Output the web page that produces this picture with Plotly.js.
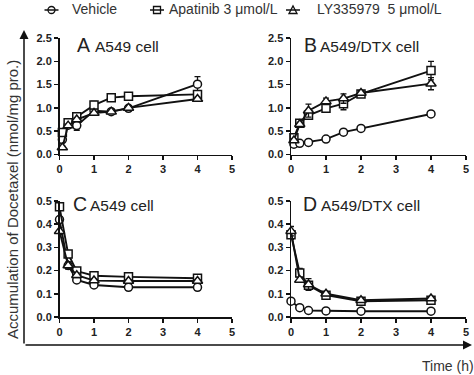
<!DOCTYPE html>
<html>
<head>
<meta charset="utf-8">
<script src="https://cdn.plot.ly/plotly-3.0.1.min.js"></script>
<style>html,body{margin:0;padding:0;background:#fff;}#chart{width:474px;height:375px;}</style>
</head>
<body>
<div id="chart"></div>
<script>
// ---- data ----
var seriesNames = ["Vehicle", "Apatinib 3 \u03bcmol/L", "LY335979  5 \u03bcmol/L"];
var panelLetters = ["A", "B", "C", "D"];
var panelCells = ["A549 cell", "A549/DTX cell", "A549 cell", "A549/DTX cell"];
var xTitle = "Time (h)";
var yTitle = "Accumulation of Docetaxel (nmol/mg pro.)";

var timeUptake = [0.083, 0.25, 0.5, 1, 1.5, 2, 4];
var timeEfflux = [0, 0.25, 0.5, 1, 2, 4];

// Panel A (A549, uptake)
var vehA = [0.32, 0.63, 0.62, 0.94, 0.92, 0.99, 1.51];
var vehAerr = [0.03, 0.04, 0.10, 0.04, 0.03, 0.04, 0.16];
var apaA = [0.47, 0.68, 0.81, 1.06, 1.22, 1.25, 1.29];
var apaAerr = [0.03, 0.04, 0.04, 0.08, 0.04, 0.03, 0.05];
var lyA = [0.15, 0.62, 0.75, 0.89, 0.92, 1.00, 1.19];
var lyAerr = [0.03, 0.03, 0.04, 0.03, 0.03, 0.05, 0.04];

// Panel B (A549/DTX, uptake)
var vehB = [0.22, 0.24, 0.26, 0.33, 0.48, 0.56, 0.87];
var vehBerr = [0.02, 0.02, 0.02, 0.02, 0.02, 0.02, 0.02];
var apaB = [0.36, 0.67, 0.84, 0.99, 1.09, 1.30, 1.80];
var apaBerr = [0.03, 0.04, 0.05, 0.05, 0.13, 0.06, 0.20];
var lyB = [0.30, 0.65, 0.94, 1.14, 1.20, 1.32, 1.52];
var lyBerr = [0.03, 0.04, 0.14, 0.07, 0.10, 0.05, 0.13];

// Panel C (A549, efflux)
var vehC = [0.42, 0.222, 0.160, 0.138, 0.128, 0.128];
var vehCerr = [0.01, 0.01, 0.01, 0.006, 0.006, 0.006];
var apaC = [0.475, 0.272, 0.198, 0.178, 0.173, 0.167];
var apaCerr = [0.01, 0.01, 0.01, 0.006, 0.006, 0.006];
var lyC = [0.37, 0.222, 0.180, 0.157, 0.155, 0.155];
var lyCerr = [0.015, 0.015, 0.01, 0.006, 0.006, 0.006];

// Panel D (A549/DTX, efflux)
var vehD = [0.068, 0.040, 0.028, 0.026, 0.025, 0.025];
var vehDerr = [0.004, 0.003, 0.003, 0.002, 0.002, 0.002];
var apaD = [0.355, 0.190, 0.137, 0.094, 0.068, 0.072];
var apaDerr = [0.02, 0.02, 0.015, 0.008, 0.006, 0.006];
var lyD = [0.370, 0.160, 0.140, 0.100, 0.072, 0.080];
var lyDerr = [0.02, 0.01, 0.025, 0.008, 0.006, 0.006];

var xTickVals = [0, 1, 2, 3, 4, 5];
var yTicksTop = [0, 0.5, 1.0, 1.5, 2.0, 2.5];
var yTicksBottom = [0, 0.1, 0.2, 0.3, 0.4, 0.5];

// ---- styling ----
var W = 474, H = 375;
var symbols = ["circle", "square", "triangle-up"];
var markerSizes = [8, 8, 9];

function px(x) { return x / W; }
function py(y) { return 1 - y / H; }

function tr(x, y, err, k, xa, ya) {
  return {
    x: x, y: y, xaxis: xa, yaxis: ya, type: "scatter", mode: "lines+markers",
    name: seriesNames[k], showlegend: false, cliponaxis: false,
    line: {color: "#111", width: 1.9},
    marker: {symbol: symbols[k], size: markerSizes[k], color: "#fff", line: {color: "#111", width: 1.5}},
    error_y: {type: "data", array: err, visible: true, color: "#111", thickness: 1.3, width: 3}
  };
}

var data = [
  tr(timeUptake, vehA, vehAerr, 0, "x", "y"),
  tr(timeUptake, apaA, apaAerr, 1, "x", "y"),
  tr(timeUptake, lyA, lyAerr, 2, "x", "y"),
  tr(timeUptake, vehB, vehBerr, 0, "x2", "y2"),
  tr(timeUptake, apaB, apaBerr, 1, "x2", "y2"),
  tr(timeUptake, lyB, lyBerr, 2, "x2", "y2"),
  tr(timeEfflux, vehC, vehCerr, 0, "x3", "y3"),
  tr(timeEfflux, apaC, apaCerr, 1, "x3", "y3"),
  tr(timeEfflux, lyC, lyCerr, 2, "x3", "y3"),
  tr(timeEfflux, vehD, vehDerr, 0, "x4", "y4"),
  tr(timeEfflux, apaD, apaDerr, 1, "x4", "y4"),
  tr(timeEfflux, lyD, lyDerr, 2, "x4", "y4")
];

var tickFont = {family: "Liberation Sans, Arial, sans-serif", size: 11, color: "#222", weight: "bold"};
function xax(domain, anchor) {
  return {domain: domain, anchor: anchor, range: [0, 5], tickvals: xTickVals, ticktext: xTickVals.map(String),
    showline: true, linecolor: "#111", linewidth: 1.5, ticks: "outside", ticklen: 4, tickwidth: 1.5, tickcolor: "#111",
    showgrid: false, zeroline: false, tickfont: tickFont, fixedrange: true};
}
function yax(domain, anchor, ticks, top) {
  return {domain: domain, anchor: anchor, range: [0, top], tickvals: ticks, tickformat: ".1f",
    showline: true, linecolor: "#111", linewidth: 1.5, ticks: "outside", ticklen: 4, tickwidth: 1.5, tickcolor: "#111",
    showgrid: false, zeroline: false, tickfont: tickFont, fixedrange: true};
}

var colL = [px(59.5), px(232)], colR = [px(291), px(466)];
var rowT = [py(154.5), py(38)], rowB = [py(317), py(201)];

var txtFont = {family: "Liberation Sans, Arial, sans-serif", size: 15.5, color: "#222"};
var letFont = {family: "Liberation Sans, Arial, sans-serif", size: 19.5, color: "#222"};
var legFont = {family: "Liberation Sans, Arial, sans-serif", size: 14, color: "#333"};

var letterPos = [[75, 45], [302, 45], [71, 204], [301, 204]];
var cellPos = [[93, 46], [318, 46], [88, 205], [319, 205]];
var annotations = [];
for (var i = 0; i < 4; i++) {
  annotations.push({xref: "paper", yref: "paper", x: px(letterPos[i][0]), y: py(letterPos[i][1]), xanchor: "left", yanchor: "middle",
    text: panelLetters[i], showarrow: false, font: letFont});
  annotations.push({xref: "paper", yref: "paper", x: px(cellPos[i][0]), y: py(cellPos[i][1]), xanchor: "left", yanchor: "middle",
    text: panelCells[i], showarrow: false, font: txtFont});
}
// legend texts
var legTextX = [70, 167, 315];
for (var k = 0; k < 3; k++) {
  annotations.push({xref: "paper", yref: "paper", x: px(legTextX[k]), y: py(9.5), xanchor: "left", yanchor: "middle",
    text: seriesNames[k].replace("  ", "\u00a0 "), showarrow: false, font: legFont});
}
// axis titles
annotations.push({xref: "paper", yref: "paper", x: px(12), y: py(200), xanchor: "center", yanchor: "middle",
  text: yTitle, textangle: -90, showarrow: false, font: {family: "Liberation Sans, Arial, sans-serif", size: 15, color: "#333"}});
annotations.push({xref: "paper", yref: "paper", x: px(476), y: py(366), xanchor: "right", yanchor: "middle",
  text: xTitle, showarrow: false, font: {family: "Liberation Sans, Arial, sans-serif", size: 14, color: "#333"}});
// outer arrows
annotations.push({xref: "paper", yref: "paper", x: px(24), y: py(30), ax: 0, ay: 315, axref: "pixel", ayref: "pixel",
  showarrow: true, arrowhead: 2, arrowsize: 1.2, arrowwidth: 1.5, arrowcolor: "#111", text: ""});
annotations.push({xref: "paper", yref: "paper", x: px(472), y: py(345), ax: -448, ay: 0, axref: "pixel", ayref: "pixel",
  showarrow: true, arrowhead: 2, arrowsize: 1.2, arrowwidth: 1.5, arrowcolor: "#111", text: ""});

// legend symbols as shapes
var legCX = [51.5, 157, 293];
var shapes = [];
for (var k2 = 0; k2 < 3; k2++) {
  var cx = legCX[k2], cy = 10;
  shapes.push({type: "line", xref: "paper", yref: "paper", x0: px(cx - 7), x1: px(cx + 7), y0: py(cy), y1: py(cy), line: {color: "#111", width: 1.5}});
  if (k2 === 0) {
    shapes.push({type: "circle", xref: "paper", yref: "paper", x0: px(cx - 3.5), x1: px(cx + 3.5), y0: py(cy + 3.5), y1: py(cy - 3.5), line: {color: "#111", width: 1.3}, fillcolor: "rgba(255,255,255,0)"});
  } else if (k2 === 1) {
    shapes.push({type: "rect", xref: "paper", yref: "paper", x0: px(cx - 3.5), x1: px(cx + 3.5), y0: py(cy + 3.5), y1: py(cy - 3.5), line: {color: "#111", width: 1.3}, fillcolor: "rgba(255,255,255,0)"});
  } else {
    shapes.push({type: "path", xref: "paper", yref: "paper",
      path: "M " + px(cx - 4) + " " + py(cy + 3.5) + " L " + px(cx + 4) + " " + py(cy + 3.5) + " L " + px(cx) + " " + py(cy - 4) + " Z",
      line: {color: "#111", width: 1.3}, fillcolor: "rgba(255,255,255,0)"});
  }
}

var layout = {
  width: W, height: H, margin: {l: 0, r: 0, t: 0, b: 0},
  paper_bgcolor: "#fff", plot_bgcolor: "rgba(0,0,0,0)", showlegend: false,
  xaxis: xax(colL, "y"), yaxis: yax(rowT, "x", yTicksTop, 2.5),
  xaxis2: xax(colR, "y2"), yaxis2: yax(rowT, "x2", yTicksTop, 2.5),
  xaxis3: xax(colL, "y3"), yaxis3: yax(rowB, "x3", yTicksBottom, 0.5),
  xaxis4: xax(colR, "y4"), yaxis4: yax(rowB, "x4", yTicksBottom, 0.5),
  annotations: annotations, shapes: shapes
};

Plotly.newPlot("chart", data, layout, {staticPlot: true, displayModeBar: false});
</script>
</body>
</html>
